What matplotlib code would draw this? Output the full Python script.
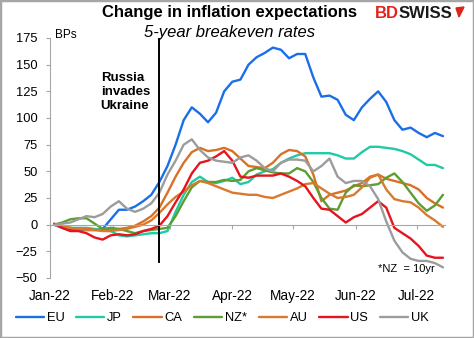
import matplotlib
matplotlib.use("Agg")
import matplotlib.pyplot as plt
import matplotlib.dates as mdates
import matplotlib.patches as mpatches
import pandas as pd

plt.rcParams['font.family'] = ['Liberation Sans', 'DejaVu Sans']

dates = pd.date_range('2022-01-03', '2022-07-14', freq='4D')

eu = [0, -3, -5, -5, -5, -5, -4, 5, 14, 14, 17, 22, 28, 40, 55, 75, 98, 110, 104, 96,
      105, 125, 134, 136, 150, 157, 161, 166, 164, 156, 160, 160, 138, 120, 121, 117,
      103, 98, 110, 118, 125, 115, 98, 89, 91, 86, 82, 86, 83]
jp = [0, -2, -3, -3, -3, -4, -5, -6, -10, -11, -10, -9, -8, -8, -6, 12, 28, 40, 45, 40,
      39, 41, 44, 38, 40, 47, 50, 52, 58, 62, 65, 67, 67, 67, 67, 65, 62, 62, 68, 73,
      73, 72, 71, 69, 66, 61, 56, 56, 53]
ca = [0, -2, -3, -4, -4, -5, -5, -5, -4, -3, -1, 3, 8, 16, 30, 45, 58, 68, 72, 69,
      70, 72, 69, 62, 55, 54, 53, 58, 66, 70, 69, 64, 47, 22, 28, 30, 32, 36, 39, 45,
      47, 43, 41, 39, 37, 33, 25, 20, 16]
nz = [0, 2, 5, 6, 6, 1, -4, -3, -4, -6, -8, -6, -5, -4, -3, 8, 22, 35, 41, 40,
      40, 42, 41, 42, 50, 53, 51, 49, 48, 48, 53, 50, 40, 25, 15, 14, 30, 37, 36, 37,
      38, 44, 48, 40, 30, 20, 13, 18, 28]
au = [0, -1, -3, -4, -5, -5, -6, -6, -5, -4, -2, 0, 4, 11, 19, 26, 31, 37, 41, 39,
      36, 33, 30, 29, 28, 28, 26, 25, 28, 31, 34, 38, 39, 34, 29, 25, 26, 28, 35, 44,
      47, 33, 24, 22, 21, 16, 9, 4, -2]
us = [1, -3, -6, -6, -8, -12, -14, -10, -9, -10, -9, -6, -4, -1, 8, 21, 33, 48, 58, 60,
      64, 69, 60, 45, 44, 46, 46, 46, 48, 45, 41, 36, 25, 15, 14, 8, 2, 7, 10, 16,
      22, 16, -3, -8, -13, -20, -29, -31, -31]
uk = [0, 1, 2, 5, 8, 7, 10, 17, 22, 15, 12, 15, 20, 30, 47, 60, 75, 80, 70, 63,
      60, 59, 58, 63, 65, 60, 53, 50, 58, 61, 61, 60, 50, 55, 62, 45, 39, 41, 41, 36,
      24, 3, -15, -26, -32, -34, -34, -36, -40]

series_names = ['EU', 'JP', 'CA', 'NZ*', 'AU', 'US', 'UK']
series_values = [eu, jp, ca, nz, au, us, uk]
series_colors = ['#1A6FE8', '#1FCBA5', '#DA7025', '#5C9E33', '#D9792E', '#E6141E', '#9C9C9C']

invasion_date = pd.Timestamp('2022-02-24')
yticks = [-50, -25, 0, 25, 50, 75, 100, 125, 150, 175]

W, H = 474, 338
fig = plt.figure(figsize=(W / 100, H / 100), dpi=100)
ax = fig.add_axes([50 / W, 1 - 278 / H, (445 - 50) / W, (278 - 38) / H])

lines = []
for name, vals, col in zip(series_names, series_values, series_colors):
    ln, = ax.plot(dates, vals, color=col, lw=1.7, label=name, solid_capstyle='round')
    lines.append(ln)

ax.plot([invasion_date, invasion_date], [175, -35], color='black', lw=1.4)
ax.text(pd.Timestamp('2022-01-26'), 143, 'Russia\ninvades\nUkraine', fontsize=9.5,
        weight='bold', ha='left', va='top', linespacing=1.2)

ax.set_ylim(-50, 175)
ax.set_xlim(pd.Timestamp('2022-01-01'), pd.Timestamp('2022-07-15'))
ax.set_yticks(yticks)
ax.xaxis.set_major_locator(mdates.MonthLocator())
ax.xaxis.set_major_formatter(mdates.DateFormatter('%b-%y'))

for s in ['top', 'right']:
    ax.spines[s].set_visible(False)
ax.spines['bottom'].set_position(('data', 0))
ax.spines['bottom'].set_color('#A6A6A6')
ax.spines['left'].set_color('#A6A6A6')
ax.spines['bottom'].set_linewidth(0.8)
ax.spines['left'].set_linewidth(0.8)
ax.tick_params(axis='y', direction='out', length=3, color='#A6A6A6', labelsize=9.3, pad=6)
ax.tick_params(axis='x', direction='out', length=3, color='#A6A6A6', labelsize=9.8, pad=43)

fig.text(229 / W, 1 - 13 / H, 'Change in inflation expectations', ha='center', va='center',
         fontsize=12, weight='bold')
fig.text(230 / W, 1 - 33 / H, '5-year breakeven rates', ha='center', va='center',
         fontsize=12, style='italic')
fig.text(55 / W, 1 - 35 / H, 'BPs', ha='left', va='center', fontsize=8.5)
fig.text(378 / W, 1 - 269 / H, '*NZ  = 10yr', ha='left', va='center', fontsize=8)

# logo
bd = fig.text(375 / W, 1 - 14 / H, 'BD', ha='left', va='center', fontsize=12, weight='bold',
              color='#E2231A')
ax.annotate('SWISS', xy=(1.0, 0.5), xycoords=bd, ha='left', va='center', fontsize=12,
            weight='bold', color='#1A1A1A', annotation_clip=False)
fig.patches.append(mpatches.Polygon([(456 / W, 1 - 8 / H), (464 / W, 1 - 7 / H),
                                     (459 / W, 1 - 17 / H)], closed=True,
                                    transform=fig.transFigure, color='#E2231A'))

fig.legend(handles=lines, labels=series_names, loc='center', ncol=7,
           bbox_to_anchor=(222 / W, 1 - 318 / H), frameon=False, fontsize=9.3,
           handlelength=2.2, handletextpad=0.2, columnspacing=0.9)

fig.patches.append(mpatches.Rectangle((0, 0), 1, 1, transform=fig.transFigure,
                                      fill=False, edgecolor='#A6A6A6', lw=2.5))

fig.savefig('out.png', dpi=100)
